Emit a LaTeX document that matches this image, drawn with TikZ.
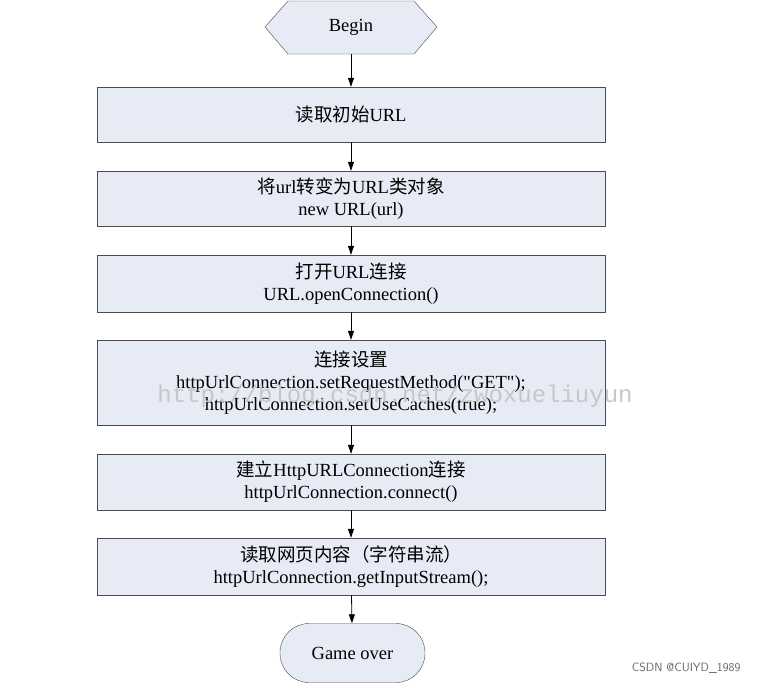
\documentclass[tikz,border=0pt]{standalone}
\usepackage{fontspec}
\setmainfont{Liberation Serif}
\setmonofont{Liberation Mono}
\newfontfamily\cjk{Noto Sans CJK SC}
\usetikzlibrary{arrows.meta}
\definecolor{boxfill}{RGB}{230,235,245}
\begin{document}
\begin{tikzpicture}[x=1pt,y=-1pt,
  box/.style={draw=black!70,fill=boxfill,minimum width=508pt,align=center,font=\fontsize{18.5}{22}\selectfont,inner sep=0pt},
  arr/.style={-{Triangle[length=9pt,width=6pt]},black,line width=0.8pt}]
\useasboundingbox[fill=white] (0,0) rectangle (757,686);
\path[draw=black!70,fill=boxfill] (265,27)--(288,1)--(414,1)--(437,27)--(414,54)--(288,54)--cycle;
\node[font=\fontsize{18.5}{22}\selectfont] (begin) at (351,27.5) {Begin};
\coordinate (bb) at (351,54);
\node[box,minimum height=55pt] (b1) at (351,114.5) {{\cjk 读取初始}URL};
\node[box,minimum height=55pt] (b2) at (351,198.5) {{\cjk 将}url{\cjk 转变为}URL{\cjk 类对象}\\new URL(url)};
\node[box,minimum height=57pt] (b3) at (351,283.5) {{\cjk 打开}URL{\cjk 连接}\\URL.openConnection()};
\node[box,minimum height=85pt] (b4) at (351,382.5) {{\cjk 连接设置}\\httpUrlConnection.setRequestMethod(\textquotedbl GET\textquotedbl);\\httpUrlConnection.setUseCaches(true);};
\node[box,minimum height=56pt] (b5) at (351,482) {{\cjk 建立}HttpURLConnection{\cjk 连接}\\httpUrlConnection.connect()};
\node[box,minimum height=57pt] (b6) at (351,566.5) {{\cjk 读取网页内容（字符串流）}\\httpUrlConnection.getInputStream();};
\node[draw=black!70,fill=boxfill,rounded corners=29pt,minimum width=145pt,minimum height=59pt,font=\fontsize{18.5}{22}\selectfont] (go) at (352.5,653) {Game over};
\draw[arr] (bb)--(b1);
\draw[arr] (b1)--(b2);
\draw[arr] (b2)--(b3);
\draw[arr] (b3)--(b4);
\draw[arr] (b4)--(b5);
\draw[arr] (b5)--(b6);
\draw[arr] (b6)--(go);
\node[text=black!22,font=\ttfamily\fontsize{24}{24}\selectfont] (wm) at (395,396) {http://blog.csdn.net/zwoxueliuyun};
\node[text=black!60,font=\sffamily\fontsize{12}{12}\selectfont,anchor=east] (csdn) at (744,668) {CSDN @CUIYD\_1989};
\end{tikzpicture}
\end{document}
